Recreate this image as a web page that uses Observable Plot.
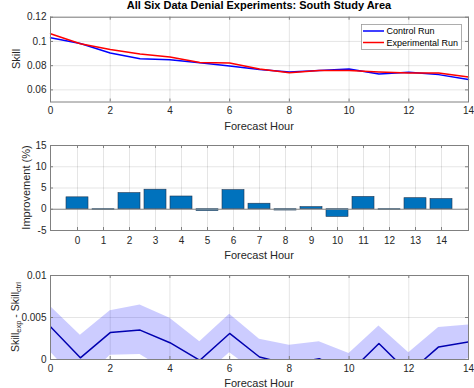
<!DOCTYPE html>
<html><head><meta charset="utf-8">
<script src="https://cdn.jsdelivr.net/npm/d3@7"></script>
<script src="https://cdn.jsdelivr.net/npm/@observablehq/plot@0.6"></script>
<style>
body{margin:0;background:#fff;}
#chart{position:relative;width:474px;height:388px;overflow:hidden;background:#fff;}
#chart svg{position:absolute;left:0;}
</style></head><body><div id="chart"></div>
<script>
// ---------------- data ----------------
const hours = [0,1,2,3,4,5,6,7,8,9,10,11,12,13,14];
const controlSkill = [0.1030,0.0983,0.0904,0.0857,0.0849,0.0825,0.0797,0.0768,0.0748,0.0760,0.0772,0.0731,0.0746,0.0726,0.0685];
const experimentalSkill = [0.1063,0.0981,0.0934,0.0896,0.0871,0.0826,0.0822,0.0772,0.0742,0.0761,0.0759,0.0748,0.0740,0.0739,0.0706];
const improvementPct = [2.8,-0.2,3.8,4.6,3.0,-0.4,4.5,1.3,-0.3,0.5,-1.8,2.9,-0.2,2.6,2.4];
const diffMean = [0.0039,0.0002,0.0032,0.0035,0.0020,-0.0001,0.0031,0.0003,-0.0006,0.0001,-0.0016,0.0019,-0.0016,0.0015,0.0021];
const diffUpper = [0.0063,0.0029,0.0058,0.0065,0.0049,0.0021,0.0054,0.0024,0.0017,0.0021,0.0007,0.0040,0.0008,0.0038,0.0041];
const diffLower = [0.0009,-0.0030,0.0005,0.0006,-0.0016,-0.0023,0.0008,-0.0018,-0.0029,-0.0019,-0.0039,-0.0002,-0.0040,-0.0008,0.0001];

const xTicksEven = [0,2,4,6,8,10,12,14];
const yTicksSkill = [0.06,0.08,0.1,0.12];
const yTicksImprove = [-5,0,5,10,15];
const yTicksDiff = [0,0.005,0.01];

const titleText = "All Six Data Denial Experiments: South Study Area";
const xLabel = "Forecast Hour";
const seriesNames = ["Control Run","Experimental Run"];

// ---------------- styles ----------------
const FONT = '"Liberation Sans", Arial, Helvetica, sans-serif';
const TXT = "#262626";
const GRID = {stroke: "#000", strokeOpacity: 0.1};
const FRAME = "#808080";
const svgStyle = {fontFamily: FONT, fontSize: "10px", color: TXT, background: "transparent", overflow: "visible"};
const W = 474, ML = 50, MR = 6;
const FW = W - ML - MR;

function inwardTicks(xt, yt, fh) {
  return [
    Plot.tickX(xt, {x: d => d, insetTop: fh - 3, stroke: FRAME}),
    Plot.tickX(xt, {x: d => d, insetBottom: fh - 3, stroke: FRAME}),
    Plot.tickY(yt, {y: d => d, insetRight: FW - 3, stroke: FRAME}),
    Plot.tickY(yt, {y: d => d, insetLeft: FW - 3, stroke: FRAME})
  ];
}
function place(svg, top) {
  svg.style.top = top + "px";
  document.getElementById("chart").appendChild(svg);
  return d3.select(svg);
}
function addText(sel, x, y, str, {size = 11, anchor = "middle", rotate = 0, weight = "normal", fill = TXT} = {}) {
  return sel.append("text")
    .attr("transform", `translate(${x},${y}) rotate(${rotate})`)
    .attr("text-anchor", anchor)
    .attr("font-family", FONT)
    .attr("font-size", size)
    .attr("font-weight", weight)
    .attr("fill", fill)
    .text(str);
}

// ---------------- panel 1: skill lines ----------------
const skillRows = hours.map((h, i) => ({h, ctrl: controlSkill[i], exp: experimentalSkill[i]}));
const H1 = 132, MT1 = 16.7, MB1 = 30.5;
const p1 = Plot.plot({
  width: W, height: H1, marginLeft: ML, marginRight: MR, marginTop: MT1, marginBottom: MB1,
  style: svgStyle,
  x: {domain: [0, 14]},
  y: {domain: [0.05, 0.12]},
  marks: [
    Plot.gridX(xTicksEven, GRID),
    Plot.gridY(yTicksSkill, GRID),
    Plot.lineY(skillRows, {x: "h", y: "ctrl", stroke: "#0000ff", strokeWidth: 1.5}),
    Plot.lineY(skillRows, {x: "h", y: "exp", stroke: "#ff0000", strokeWidth: 1.5}),
    Plot.frame({stroke: FRAME}),
    ...inwardTicks(xTicksEven, yTicksSkill, H1 - MT1 - MB1),
    Plot.axisX(xTicksEven, {tickSize: 0, tickPadding: 5, tickFormat: d => String(d), label: null}),
    Plot.axisY(yTicksSkill, {tickSize: 0, tickPadding: 4, tickFormat: d => String(d), label: null})
  ]
});
const s1 = place(p1, 0);
addText(s1, 259, 9, titleText, {weight: "bold", fill: "#000"});
addText(s1, 20, 59, "Skill", {rotate: -90});
addText(s1, 259, 130, xLabel);
// legend
const lg = s1.append("g");
lg.append("rect").attr("x", 361.5).attr("y", 24.5).attr("width", 100).attr("height", 25)
  .attr("fill", "#fff").attr("stroke", "#9a9a9a").attr("stroke-width", 0.8);
[["#0000ff", 31], ["#ff0000", 42.5]].forEach(([c, y], i) => {
  lg.append("line").attr("x1", 363).attr("x2", 384).attr("y1", y).attr("y2", y)
    .attr("stroke", c).attr("stroke-width", 1.5);
  addText(lg, 386.5, y + 3.3, seriesNames[i], {size: 9, anchor: "start", fill: "#000"});
});

// ---------------- panel 2: improvement bars ----------------
const impRows = hours.map((h, i) => ({h, v: improvementPct[i]}));
const H2 = 132, MT2 = 15, MB2 = 32;
const p2 = Plot.plot({
  width: W, height: H2, marginLeft: ML, marginRight: MR, marginTop: MT2, marginBottom: MB2,
  style: svgStyle,
  x: {type: "band", domain: hours, paddingInner: 0.16, paddingOuter: 0.58},
  y: {domain: [-5, 15]},
  marks: [
    Plot.ruleX(hours, {x: d => d, ...GRID}),
    Plot.gridY(yTicksImprove, GRID),
    Plot.barY(impRows, {x: "h", y: "v", fill: "#0072BD", stroke: "#1e3550", strokeWidth: 0.6}),
    Plot.ruleY([0], {stroke: "#8a8a8a"}),
    Plot.frame({stroke: FRAME}),
    ...inwardTicks(hours, yTicksImprove, H2 - MT2 - MB2),
    Plot.axisX({tickSize: 0, tickPadding: 6, tickFormat: d => String(d), label: null}),
    Plot.axisY(yTicksImprove, {tickSize: 0, tickPadding: 4, tickFormat: d => String(d), label: null})
  ]
});
const s2 = place(p2, 130);
addText(s2, 29.5, 57.5, "Improvement (%)", {rotate: -90});
addText(s2, 259, 129, xLabel);

// ---------------- panel 3: skill difference band ----------------
const diffRows = hours.map((h, i) => ({h, m: diffMean[i], lo: diffLower[i], hi: diffUpper[i]}));
const H3 = 126, MT3 = 13, MB3 = 29;
const p3 = Plot.plot({
  width: W, height: H3, marginLeft: ML, marginRight: MR, marginTop: MT3, marginBottom: MB3,
  style: svgStyle,
  x: {domain: [0, 14]},
  y: {domain: [0, 0.01]},
  marks: [
    Plot.gridX(xTicksEven, GRID),
    Plot.gridY(yTicksDiff, GRID),
    Plot.areaY(diffRows, {x: "h", y1: "lo", y2: "hi", fill: "#0000ff", fillOpacity: 0.2, clip: true}),
    Plot.lineY(diffRows, {x: "h", y: "m", stroke: "#0000b0", strokeWidth: 1.5, clip: true}),
    Plot.frame({stroke: FRAME}),
    ...inwardTicks(xTicksEven, yTicksDiff, H3 - MT3 - MB3),
    Plot.axisX(xTicksEven, {tickSize: 0, tickPadding: 5, tickFormat: d => String(d), label: null}),
    Plot.axisY(yTicksDiff, {tickSize: 0, tickPadding: 4, tickFormat: d => String(d), label: null})
  ]
});
const s3 = place(p3, 262);
const yl = s3.append("text")
  .attr("transform", "translate(18.5,55) rotate(-90)")
  .attr("text-anchor", "middle")
  .attr("font-family", FONT).attr("font-size", 10.5).attr("fill", TXT);
yl.append("tspan").text("Skill");
yl.append("tspan").attr("font-size", 7.5).attr("dy", 2.5).text("exp");
yl.append("tspan").attr("dy", -2.5).text(" - Skill");
yl.append("tspan").attr("font-size", 7.5).attr("dy", 2.5).text("ctrl");
addText(s3, 259, 125, xLabel);
</script></body></html>
